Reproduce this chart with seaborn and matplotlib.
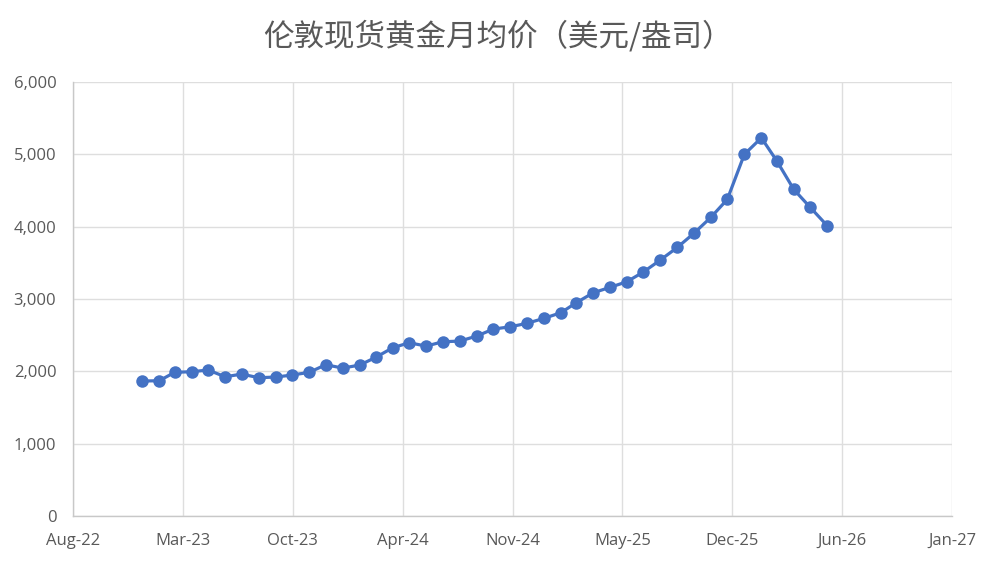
import pandas as pd
import seaborn as sns
import matplotlib.pyplot as plt
import matplotlib.dates as mdates
import matplotlib.ticker as mticker

# monthly average, Jan 2023 .. Jun 2026
months = pd.date_range('2023-01-01', periods=42, freq='MS')
prices = [1866, 1870, 1986, 1995, 2018, 1925, 1962, 1912, 1921, 1949,
          1986, 2091, 2045, 2087, 2193, 2326, 2395, 2349, 2409, 2418,
          2488, 2584, 2616, 2663, 2732, 2810, 2948, 3086, 3160, 3238,
          3372, 3538, 3713, 3907, 4128, 4377, 4999, 5228, 4910, 4515,
          4266, 4012]
title = '伦敦现货黄金月均价（美元/盎司）'
y_ticks = [0, 1000, 2000, 3000, 4000, 5000, 6000]

df = pd.DataFrame({'month': months, 'price': prices})

sns.set_theme(style='whitegrid')
plt.rcParams['font.family'] = ['Noto Sans CJK SC', 'DejaVu Sans']

fig = plt.figure(figsize=(10, 5.65), dpi=100)
ax = fig.add_axes([0.073, 0.0867, 0.879, 0.7682])

sns.lineplot(data=df, x='month', y='price', ax=ax, color='#4472C4',
             linewidth=2.3, marker='o', markersize=9, markeredgewidth=0)

# excel-style date axis: ticks every 200 days
start = pd.Timestamp('2022-08-28')
x_ticks = [start + pd.Timedelta(days=200 * i) for i in range(9)]
ax.set_xticks(x_ticks)
ax.set_xlim(x_ticks[0], x_ticks[-1])
ax.xaxis.set_major_formatter(mdates.DateFormatter('%b-%y'))

ax.set_yticks(y_ticks)
ax.set_ylim(0, 6000)
ax.yaxis.set_major_formatter(mticker.FuncFormatter(lambda v, p: f'{int(v):,}'))

ax.set_xlabel('')
ax.set_ylabel('')
ax.grid(True, color='#dedede', linewidth=1)
for side in ['top', 'right']:
    ax.spines[side].set_visible(False)
for side in ['left', 'bottom']:
    ax.spines[side].set_color('#c8c8c8')
    ax.spines[side].set_linewidth(1)

ax.tick_params(axis='both', length=0, labelsize=12, labelcolor='#595959')
ax.tick_params(axis='x', pad=12)
ax.tick_params(axis='y', pad=12)
for lbl in ax.get_xticklabels() + ax.get_yticklabels():
    lbl.set_family(['Open Sans', 'DejaVu Sans'])

fig.text(0.4975, 0.935, title, ha='center', va='center', fontsize=22, color='#595959')

plt.savefig('out.png', dpi=100)
plt.close()
